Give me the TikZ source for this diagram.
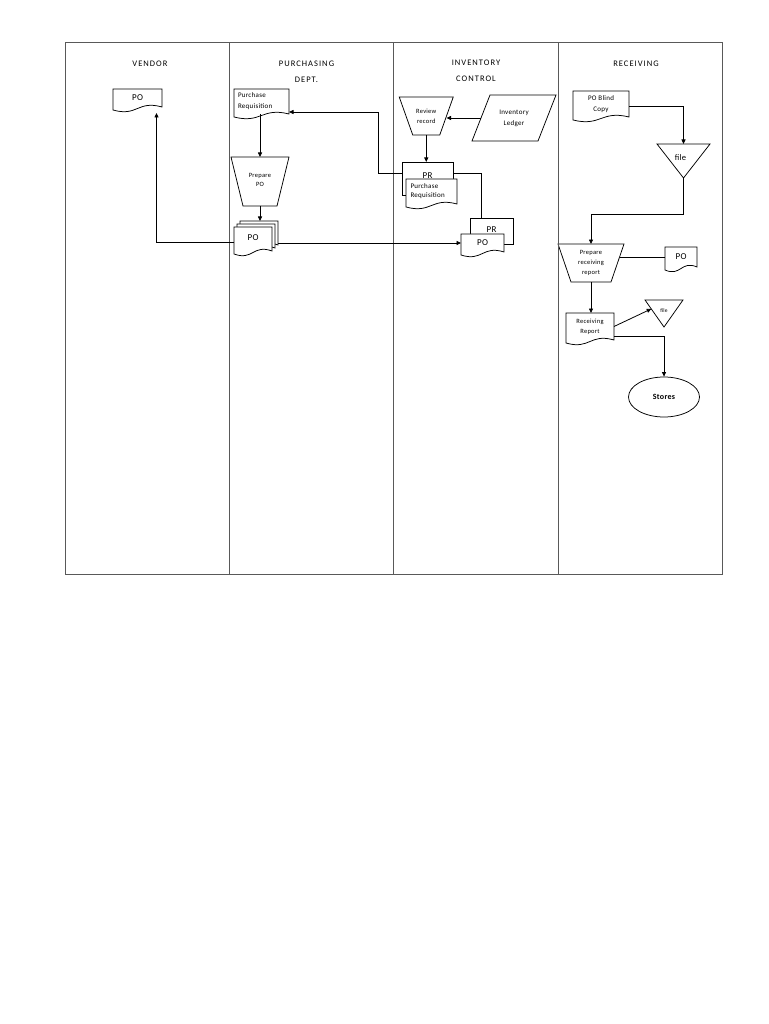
\documentclass[tikz,border=0pt]{standalone}
\usepackage{fontspec}
\setmainfont{Carlito}
\newfontfamily\hdfont[LetterSpace=12]{Carlito}
\newfontfamily\smfont[LetterSpace=4]{Carlito}
\usetikzlibrary{arrows.meta,calc,shapes.geometric,backgrounds}

\newcommand\docout[1]{%
  \begin{pgfonlayer}{background}
  \draw[shp] ($(#1.south west)+(0,3)$) -- (#1.north west) -- (#1.north east) -- (#1.south east)
    .. controls ($(#1.south)+(0,-7)$) and ($(#1.south)+(0,10)$) .. ($(#1.south west)+(0,3)$) -- cycle;
  \end{pgfonlayer}}
\newcommand\boxout[1]{%
  \begin{pgfonlayer}{background}
  \draw[shp] (#1.south west) rectangle (#1.north east);
  \end{pgfonlayer}}
\newcommand\trapout[2]{%
  \begin{pgfonlayer}{background}
  \draw[shp] ([xshift=-#2]#1.north west) -- ([xshift=#2]#1.north east) -- ([xshift=-#2]#1.south east) -- ([xshift=#2]#1.south west) -- cycle;
  \end{pgfonlayer}}
\newcommand\paraout[2]{%
  \begin{pgfonlayer}{background}
  \draw[shp] ([xshift=#2]#1.north west) -- ([xshift=#2]#1.north east) -- ([xshift=-#2]#1.south east) -- ([xshift=-#2]#1.south west) -- cycle;
  \end{pgfonlayer}}
\newcommand\triout[1]{%
  \begin{pgfonlayer}{background}
  \draw[shp] (#1.north west) -- (#1.north east) -- (#1.south) -- cycle;
  \end{pgfonlayer}}

\begin{document}
\begin{tikzpicture}[x=1pt,y=-1pt,
  lane/.style={draw=black!65, line width=1pt},
  carrier/.style={inner sep=0pt, outer sep=0pt, align=center},
  shp/.style={draw=black, line width=0.75pt, fill=white},
  conn/.style={draw=black, line width=0.8pt},
  arr/.style={conn, -{Triangle[length=4.5pt,width=4pt]}},
  hd/.style={font=\hdfont\fontsize{8.5}{16}\selectfont, align=center, inner sep=0pt},
  big/.style={font=\smfont\fontsize{9}{10}\selectfont},
  small/.style={font=\smfont\fontsize{7}{11}\selectfont},
  tiny/.style={font=\smfont\fontsize{6.5}{10}\selectfont}]
\useasboundingbox (0,0) rectangle (768,1024);

% swimlanes
\draw[lane] (65,43) rectangle (722,574);
\draw[lane] (229,43) -- (229,574);
\draw[lane] (393.5,43) -- (393.5,574);
\draw[lane] (558,43) -- (558,574);

\node[hd] (hvendor) at (150,64) {VENDOR};
\node[hd] (hpurch) at (306.5,72) {PURCHASING\\DEPT.};
\node[hd] (hinv) at (476,71) {INVENTORY\\CONTROL};
\node[hd] (hrec) at (636,64) {RECEIVING};

% Vendor
\node[carrier, big, minimum width=49pt, minimum height=18pt] (vpo) at (137.5,98) {\raisebox{-2pt}{PO}};
\docout{vpo}

% Purchasing
\node[carrier, small, minimum width=55pt, minimum height=25pt, text width=47pt, align=left] (preq) at (261.5,101.5) {Purchase\\Requisition};
\docout{preq}
\node[carrier, tiny, minimum width=46pt, minimum height=49pt] (ppo) at (260,181.5) {\raisebox{3pt}{\shortstack{Prepare\\[1pt]PO}}};
\trapout{ppo}{6pt}
\node[carrier, minimum width=38pt, minimum height=24pt] (pob2) at (259,233) {};
\docout{pob2}
\node[carrier, minimum width=38pt, minimum height=24pt] (pob1) at (256,236) {};
\docout{pob1}
\node[carrier, big, minimum width=38pt, minimum height=24pt] (pofront) at (253,239) {\raisebox{3pt}{PO}};
\docout{pofront}

% Inventory control
\node[carrier, tiny, minimum width=40.5pt, minimum height=38pt] (rr) at (426.25,116) {Review\\record};
\trapout{rr}{6.75pt}
\node[carrier, small, minimum width=66pt, minimum height=46pt] (ledger) at (514,118) {Inventory\\Ledger};
\paraout{ledger}{9pt}
\node[carrier, big, minimum width=51pt, minimum height=33pt] (ipr) at (427.5,178.5) {\raisebox{6.5pt}{PR}};
\boxout{ipr}
\node[carrier, small, minimum width=51pt, minimum height=25pt, text width=42pt, align=left] (ipreq) at (431.5,191.5) {\raisebox{-2pt}{Purchase}\\Requisition};
\docout{ipreq}
\node[carrier, big, minimum width=43pt, minimum height=26pt] (ipr2) at (491.5,231) {\raisebox{3pt}{PR}};
\boxout{ipr2}
\node[carrier, big, minimum width=43pt, minimum height=18pt] (ipo) at (482.5,243) {PO};
\docout{ipo}

% Receiving
\node[carrier, small, minimum width=56pt, minimum height=26pt] (pobc) at (601,104) {PO Blind\\Copy};
\docout{pobc}
\node[carrier, font=\smfont\fontsize{8.5}{9}\selectfont, minimum width=53pt, minimum height=34pt] (file1) at (683.5,161) {\hspace*{-6pt}\raisebox{6pt}{file}};
\triout{file1}
\node[carrier, tiny, minimum width=53pt, minimum height=38pt] (prr) at (591,263) {Prepare\\receiving\\report};
\trapout{prr}{6.5pt}
\node[carrier, big, minimum width=32pt, minimum height=20pt] (rpo) at (681,257) {PO};
\docout{rpo}
\node[carrier, tiny, minimum width=48pt, minimum height=27pt] (rrep) at (590,326.5) {Receiving\\Report};
\docout{rrep}
\node[carrier, font=\smfont\fontsize{5.5}{6}\selectfont, minimum width=38pt, minimum height=27pt] (file2) at (664,313.5) {\raisebox{5pt}{file}};
\triout{file2}
\node[ellipse, draw=black, line width=0.75pt, minimum width=71pt, minimum height=40pt, inner sep=0pt,
      font=\smfont\bfseries\fontsize{8}{9}\selectfont] (stores) at (664,397) {Stores};

% connectors
\draw[arr] ([yshift=-3pt]pofront.west) -| ([xshift=-5.5pt,yshift=-6pt]vpo.south east);
\draw[arr] (ppo.north |- preq.south) -- (ppo.north);
\draw[arr] (ppo.south) -- (ppo.south |- pob2.north);
\draw[arr] (pob2.east |- ipo.west) -- (ipo.west);
\draw[arr] ([yshift=5pt]ipr.west) -- ++(-24,0) |- ([yshift=-10.5pt]preq.east);
\draw[conn] ([yshift=5pt]ipr.east) -| ([xshift=-10.5pt]ipr2.north);
\draw[arr] (rr.south) -- (rr.south |- ipr.north);
\draw[arr] (ledger.west) -- (ledger.west -| rr.east);
\draw[arr] ([yshift=-2pt]pobc.east) -| (file1.north);
\draw[arr] (file1.south) -- ++(0,36) -| (prr.north);
\draw[conn] (rpo.west) -- ([xshift=2pt]rpo.west -| prr.east);
\draw[arr] (prr.south) -- (prr.south |- rrep.north);
\draw[arr] (rrep.east) -- ($(file2.north west)!0.33!(file2.south)$);
\draw[arr] ([yshift=-9.5pt]rrep.east) -| (stores.north);
\end{tikzpicture}
\end{document}
